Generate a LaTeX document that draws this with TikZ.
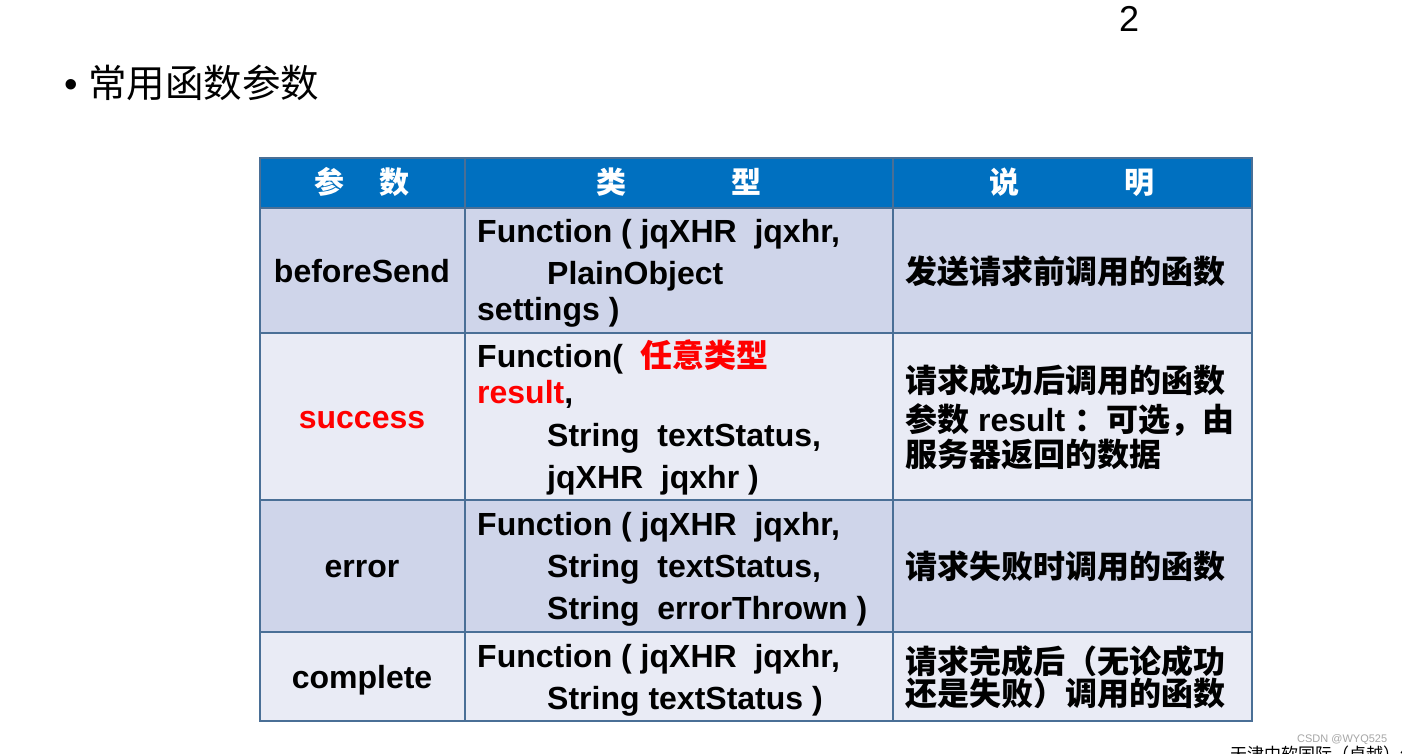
\documentclass[tikz,border=0pt]{standalone}
\usepackage{fontspec}
\setmainfont{Liberation Sans}
\newfontfamily\cjk{Noto Sans CJK SC}
\definecolor{hdr}{HTML}{0070C0}
\definecolor{rowA}{HTML}{CFD5EA}
\definecolor{rowB}{HTML}{E9EBF5}
\definecolor{grid}{HTML}{4A6F96}
\begin{document}
\begin{tikzpicture}[x=1pt,y=-1pt,
  t/.style={anchor=base west,inner sep=0pt,font=\fontsize{32}{34}\selectfont\bfseries},
  c/.style={anchor=base,inner sep=0pt,font=\fontsize{32}{34}\selectfont\bfseries},
  h/.style={anchor=base,inner sep=0pt,text=white,font=\fontsize{30}{32}\selectfont\bfseries\cjk}]
\useasboundingbox (0,0) rectangle (1402,753);
\fill[white] (0,0) rectangle (1402,753);
\node[anchor=base west,inner sep=0pt,font=\fontsize{36}{40}\selectfont] (pg) at (1119,31) {2};
\node[anchor=base west,inner sep=0pt,font=\fontsize{38.5}{40}\selectfont] (ttl) at (64,97) {•\ {\cjk 常用函数参数}};
% fills
\fill[hdr] (260,158) rectangle (1252,208);
\fill[rowA] (260,208) rectangle (1252,333);
\fill[rowB] (260,333) rectangle (1252,500);
\fill[rowA] (260,500) rectangle (1252,632);
\fill[rowB] (260,632) rectangle (1252,721);
\draw[grid,line width=1.3pt] (260,158) rectangle (1252,721);
\foreach \x in {465,893} \draw[grid,line width=1.3pt] (\x,158) -- (\x,721);
\foreach \y in {208,333,500,632} \draw[grid,line width=1.3pt] (260,\y) -- (1252,\y);
% header
\node[h] (h1) at (362,193) {参\hspace{1.2em}数};
\node[h] (h2) at (679,193) {类\hspace{3.5em}型};
\node[h] (h3) at (1072,193) {说\hspace{3.5em}明};
% col 1
\node[c] (p1) at (362,282) {beforeSend};
\node[c,text=red] (p2) at (362,428) {success};
\node[c] (p3) at (362,577) {error};
\node[c] (p4) at (362,688) {complete};
% col 2
\node[t] (a1) at (477,242) {Function ( jqXHR\ \ jqxhr,};
\node[t] (a2) at (547,284) {PlainObject};
\node[t] (a3) at (477,320) {settings )};
\node[t] (b1) at (477,367) {Function(\ \ \textcolor{red}{\cjk 任意类型}};
\node[t] (b2) at (477,403) {\textcolor{red}{result},};
\node[t] (b3) at (547,446) {String\ \ textStatus,};
\node[t] (b4) at (547,488) {jqXHR\ \ jqxhr )};
\node[t] (e1) at (477,535) {Function ( jqXHR\ \ jqxhr,};
\node[t] (e2) at (547,577) {String\ \ textStatus,};
\node[t] (e3) at (547,619) {String\ \ errorThrown )};
\node[t] (f1) at (477,667) {Function ( jqXHR\ \ jqxhr,};
\node[t] (f2) at (547,709) {String textStatus )};
% col 3
\node[t] (d1) at (905,283) {\cjk 发送请求前调用的函数};
\node[t] (d2) at (905,392) {\cjk 请求成功后调用的函数};
\node[t] (d3) at (905,431) {{\cjk 参数} result\ {\cjk ：可选，由}};
\node[t] (d4) at (905,466) {\cjk 服务器返回的数据};
\node[t] (d5) at (905,578) {\cjk 请求失败时调用的函数};
\node[t] (d6) at (905,673) {\cjk 请求完成后（无论成功};
\node[t] (d7) at (905,705) {\cjk 还是失败）调用的函数};
% watermark
\node[anchor=base west,inner sep=0pt,text=gray!70,font=\fontsize{11}{12}\selectfont] (wm) at (1297,742) {CSDN @WYQ525};
\node[anchor=base west,inner sep=0pt,font=\fontsize{17}{18}\selectfont\cjk] (ft) at (1230,760) {天津中软国际（卓越）信};
\end{tikzpicture}
\end{document}
